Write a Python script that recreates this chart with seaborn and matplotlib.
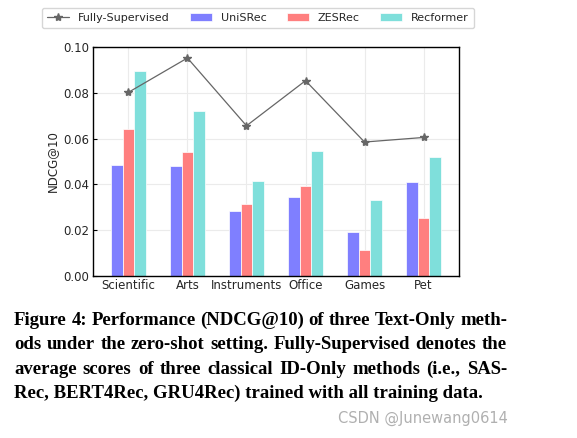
import matplotlib
matplotlib.use("Agg")
import matplotlib.pyplot as plt
import seaborn as sns
import pandas as pd
import numpy as np

categories = ["Scientific", "Arts", "Instruments", "Office", "Games", "Pet"]
unisrec = [0.0484, 0.0481, 0.0284, 0.0345, 0.0192, 0.0411]
zesrec = [0.0643, 0.0541, 0.0313, 0.0395, 0.0114, 0.0252]
recformer = [0.0894, 0.0722, 0.0413, 0.0548, 0.0331, 0.0520]
fully_supervised = [0.0802, 0.0952, 0.0656, 0.0853, 0.0585, 0.0605]
methods = ["UniSRec", "ZESRec", "Recformer"]
colors = ["#7F7FFF", "#FF7F7F", "#7FDFDB"]

caption_lines = [
    "Figure 4: Performance (NDCG@10) of three Text-Only meth-",
    "ods under the zero-shot setting. Fully-Supervised denotes the",
    "average scores of three classical ID-Only methods (i.e., SAS-",
    "Rec, BERT4Rec, GRU4Rec) trained with all training data.",
]
watermark = "CSDN @Junewang0614"

sns.set_theme(style="whitegrid")
plt.rcParams["font.family"] = ["DejaVu Sans"]

df = pd.DataFrame({
    "Dataset": categories * 3,
    "NDCG@10": unisrec + zesrec + recformer,
    "Method": [m for m in methods for _ in categories],
})
line_df = pd.DataFrame({"Dataset": categories, "NDCG@10": fully_supervised})

W, H = 577, 438
fig = plt.figure(figsize=(W / 100, H / 100), dpi=100)
ax = fig.add_axes([93 / W, 1 - 276 / H, 366 / W, 229 / H])

sns.barplot(data=df, x="Dataset", y="NDCG@10", hue="Method", palette=colors,
            width=0.6, gap=0, edgecolor="white", linewidth=0.5, ax=ax,
            legend=True, saturation=1)
ax.plot(np.arange(len(categories)), line_df["NDCG@10"], color="#666666",
        marker="*", markersize=6, linewidth=0.9, label="Fully-Supervised",
        zorder=5)

ax.set_xlim(-0.6, 5.6)
ax.set_ylim(0, 0.10)
ax.set_yticks([0, 0.02, 0.04, 0.06, 0.08, 0.10])
ax.set_yticklabels(["0.00", "0.02", "0.04", "0.06", "0.08", "0.10"])
ax.set_xlabel("")
ax.set_ylabel("NDCG@10", fontsize=8.5, labelpad=3)
ax.tick_params(axis="both", direction="in", labelsize=8.5, length=3,
               color="black", width=0.8, bottom=True, left=True, pad=3)
ax.tick_params(axis="x", pad=2)
for s in ax.spines.values():
    s.set_edgecolor("black")
    s.set_linewidth(1.0)
ax.grid(True, color="#ebebeb", linewidth=0.8)
ax.set_axisbelow(True)

handles, labels = ax.get_legend_handles_labels()
order = [labels.index("Fully-Supervised")] + [labels.index(m) for m in methods]
ax.legend([handles[i] for i in order], [labels[i] for i in order],
          loc="center", bbox_to_anchor=(258 / W, 1 - 18 / H),
          bbox_transform=fig.transFigure, ncol=4, fontsize=8,
          frameon=True, edgecolor="#cccccc", fancybox=True,
          handlelength=2.0, handletextpad=0.8, columnspacing=1.8,
          borderpad=0.45, borderaxespad=0)

# caption, justified between left and right margins
renderer = fig.canvas.get_renderer()
left_px, right_px = 14, 507
baselines = [325, 349.3, 373.6, 398]
cap_kw = dict(family="Liberation Serif", fontweight="bold", fontsize=13.5,
              va="baseline", ha="left", color="black")
for i, line in enumerate(caption_lines):
    yb = 1 - baselines[i] / H
    if i == len(caption_lines) - 1:
        fig.text(left_px / W, yb, line, **cap_kw)
        continue
    words = line.split(" ")
    objs = [fig.text(0, yb, w, **cap_kw) for w in words]
    widths = [o.get_window_extent(renderer).width for o in objs]
    gap = (right_px - left_px - sum(widths)) / (len(words) - 1)
    x = left_px
    for o, w in zip(objs, widths):
        o.set_x(x / W)
        x += w + gap

fig.text(508 / W, 1 - 418 / H, watermark, family="DejaVu Sans",
         fontsize=10.5, color="#b0b0b0", ha="right", va="center")

fig.savefig("out.png", dpi=100)
